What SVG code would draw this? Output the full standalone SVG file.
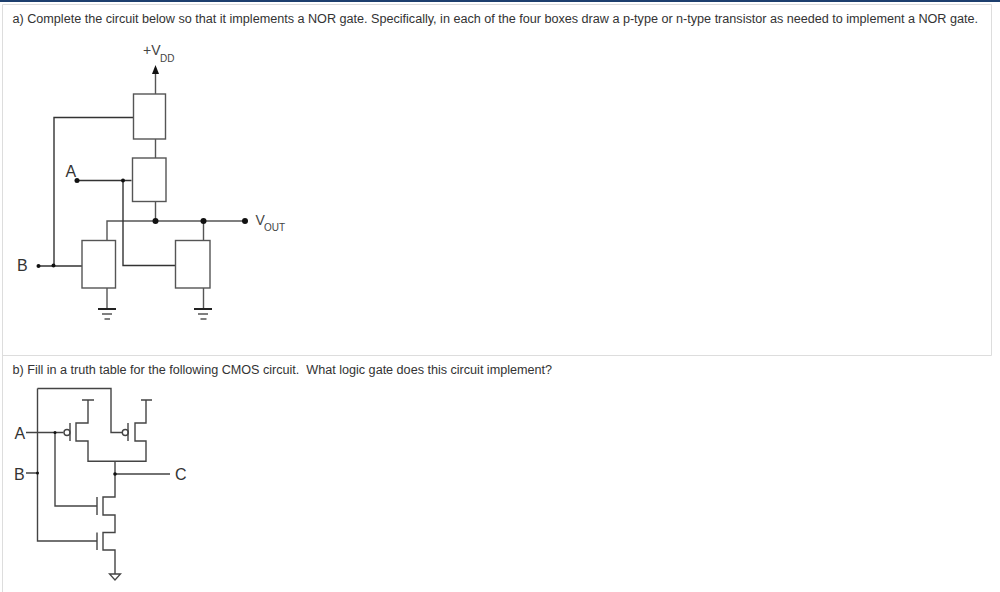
<svg xmlns="http://www.w3.org/2000/svg" width="1000" height="592" viewBox="0 0 1000 592">
<style>
text{font-family:"Liberation Sans",Arial,sans-serif;fill:#333}
.q{font-size:12.650px}
.l{font-size:16px;fill:#333}
.v{font-size:14px;fill:#444}
.s{font-size:10px;fill:#444}
.w{fill:none;stroke:#333;stroke-width:1.400}
.g{fill:none;stroke:#555;stroke-width:1.400}
.t{fill:none;stroke:#222;stroke-width:1.800}
.b{fill:#fff;stroke:#555;stroke-width:1.400}
.d{fill:#111}
.c{fill:none;stroke:#444;stroke-width:1.400}
</style>
<rect width="1000" height="592" fill="#fff"/>
<rect x="0" y="0" width="1000" height="2" fill="#1d3f6e"/>
<g id="panel" fill="none" stroke="#ddd" stroke-width="1">
<path d="M2.500 592V4.500H991.500V355.500M2.500 355.500H991.500"/>
</g>
<g id="question-a"><text class="q" x="12.500" y="23" textLength="965.500">a) Complete the circuit below so that it implements a NOR gate. Specifically, in each of the four boxes draw a p-type or n-type transistor as needed to implement a NOR gate.</text></g>
<g id="question-b"><text class="q" x="12.500" y="374" textLength="539.500">b) Fill in a truth table for the following CMOS circuit.&#160; What logic gate does this circuit implement?</text></g>
<g id="connectors">
<path class="g" d="M155.500 72V94M155.500 139V158M155.500 201.500V221M107 240.500V221H245M203.500 221V240.500M107 288V309M203.500 288V309"/>
<path class="w" d="M133.500 117.500H54V265.500M77 180.500H131.500M123 180.500V265.500H175.500M38.500 266H82"/>
<path class="t" d="M98 309H116M194 309H212"/>
<path class="g" d="M102 314H112M104.500 319H110M198 314H208M200.500 319H206.500"/>
<path class="c" d="M37.500 388.500V541H97M37.500 388.500H111V432.500H122M26 432.500H63.500M55 432.500V506H97M26 473H37.500"/>
<path class="c" d="M82 400H94M88 400V423H76V441H88V461.300H146V441H135V423H146V400M141 400H152M115 461.300V497H103V515H115V532.500H103V550H115V574M115 474H170"/>
<path class="c" d="M70 423V441M128 423V441M97 497V515M97 532.500V550"/>
<circle class="c" cx="67" cy="432.500" r="3"/>
<circle class="c" cx="125.300" cy="432.500" r="3"/>
<path d="M109.500 574H120.500L115 580Z" fill="#fff" stroke="#444" stroke-width="1.300"/>
<path class="d" d="M155.500 65L159 74H152Z"/>
<circle class="d" cx="77" cy="180.500" r="2.500"/>
<circle class="d" cx="123" cy="180.500" r="2"/>
<circle class="d" cx="155.500" cy="221" r="3"/>
<circle class="d" cx="203.500" cy="221" r="3"/>
<circle class="d" cx="245" cy="221" r="3"/>
<circle class="d" cx="38.500" cy="266" r="2"/>
<circle class="d" cx="53.500" cy="265.500" r="2"/>
<circle class="d" cx="55" cy="432.500" r="1.500"/>
<circle class="d" cx="37.500" cy="473" r="1.500"/>
<circle class="d" cx="115" cy="474" r="1.800"/>
</g>
<g id="box-1"><rect class="b" x="133.500" y="94" width="32" height="45"/></g>
<g id="box-2"><rect class="b" x="132.500" y="158" width="33.500" height="43.500"/></g>
<g id="box-3"><rect class="b" x="82" y="240.500" width="33.500" height="47.500"/></g>
<g id="box-4"><rect class="b" x="175.500" y="240.500" width="34.500" height="47.500"/></g>
<g id="label-vdd"><text class="v" x="143" y="55">+V</text><text class="s" x="160" y="62">DD</text></g>
<g id="label-vout"><text class="v" x="255.500" y="224.500">V</text><text class="s" x="264" y="231">OUT</text></g>
<g id="label-a"><text class="l" x="65.500" y="177">A</text></g>
<g id="label-b"><text class="l" x="17" y="271">B</text></g>
<g id="label-a2"><text class="l" x="14.500" y="439">A</text></g>
<g id="label-b2"><text class="l" x="14" y="479.500">B</text></g>
<g id="label-c"><text class="l" x="175" y="480">C</text></g>
</svg>
